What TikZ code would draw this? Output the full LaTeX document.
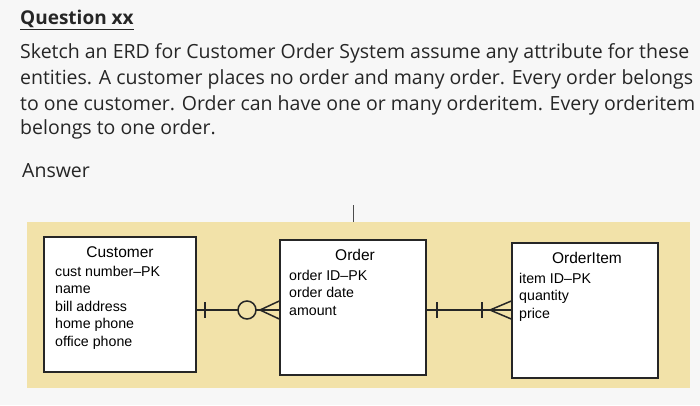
\documentclass[tikz,border=0pt]{standalone}
\usepackage{fontspec}
\setmainfont{Open Sans}
\newfontfamily\boxfont{Liberation Sans}
\begin{document}
\begin{tikzpicture}[x=1pt,y=-1pt,
  q/.style={anchor=west,inner sep=0,font=\fontsize{19.5}{22}\selectfont,text=black!85},
  ent/.style={draw=black!85,line width=1.5pt,fill=white},
  att/.style={anchor=north west,inner sep=0,align=left,font=\boxfont\fontsize{14.2}{17.5}\selectfont},
  ttl/.style={anchor=north,inner sep=0,font=\boxfont\fontsize{15.5}{17}\selectfont},
  ln/.style={line width=1.5pt,draw=black!85}]
\useasboundingbox (0,0) rectangle (700,405);
\fill[white!97!black] (0,0) rectangle (700,405);
\node[q,font=\bfseries\fontsize{19}{22}\selectfont] (t) at (20,20) {\underline{Question xx}};
\node[q] (l1) at (20,53) {Sketch an ERD for Customer Order System assume any attribute for these};
\node[q] (l2) at (20,79) {entities. A customer places no order and many order. Every order belongs};
\node[q] (l3) at (20,105) {to one customer. Order can have one or many orderitem. Every orderitem};
\node[q] (l4) at (20,129) {belongs to one order.};
\node[q] (ans) at (22,171) {Answer};
\coordinate (m1) at (353,205); \coordinate (m2) at (353,225);
\draw[black!70,line width=1pt] (m1) -- (m2);
\fill[yellow!45!brown!40!white] (27,222) rectangle (690,388);
\node[ent,minimum width=152pt,minimum height=135pt] (c) at (120,304.5) {};
\node[ent,minimum width=146pt,minimum height=135pt] (o) at (353,307.5) {};
\node[ent,minimum width=146pt,minimum height=135pt] (i) at (585,310.5) {};
\node[ttl] (ct) at (120,246) {Customer};
\node[att] (ca) at (55,266) {cust number–PK\\name\\bill address\\home phone\\office phone};
\node[ttl] (ot) at (355,249) {Order};
\node[att] (oa) at (289,270) {order ID–PK\\order date\\amount};
\node[ttl] (it) at (587,252) {OrderItem};
\node[att] (ia) at (519,273) {item ID–PK\\quantity\\price};
% connector 1
\coordinate (a1) at (c.east|-0,310); \coordinate (b1) at (o.west|-0,310);
\coordinate (k1) at (238,310);\coordinate (k2) at (256,310);
\draw[ln] (a1) -- (k1);
\draw[ln] (205,302) -- (205,318);
\draw[ln] (247,310) circle (9);
\draw[ln] (k2) -- (b1);
\draw[ln] (b1|-0,301) -- (260,310) -- (b1|-0,319);
% connector 2
\coordinate (a2) at (o.east|-0,310); \coordinate (b2) at (i.west|-0,310);
\draw[ln] (a2) -- (b2);
\draw[ln] (437,302) -- (437,318);
\draw[ln] (482,302) -- (482,318);
\draw[ln] (b2|-0,301) -- (490,310) -- (b2|-0,319);
\end{tikzpicture}
\end{document}
